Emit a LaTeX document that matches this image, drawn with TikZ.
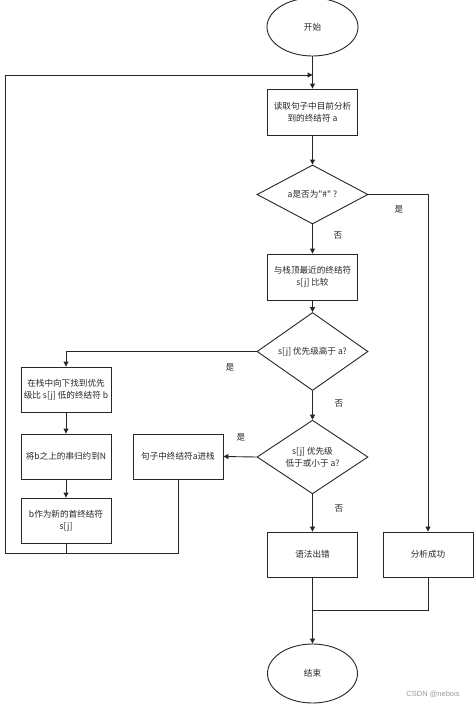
\documentclass[tikz,border=0pt]{standalone}
\usepackage{fontspec}
\newfontfamily\cjk{Noto Sans CJK SC}
\usetikzlibrary{shapes.geometric,arrows.meta}
\tikzset{
  base/.style={draw=black!85, line width=0.9pt, inner sep=0pt, align=center, font=\cjk\fontsize{8.6}{12}\selectfont, text=black!85},
  procbox/.style={base, rectangle, minimum width=90pt, minimum height=45pt},
  decide/.style={base, diamond, minimum width=111pt, minimum height=60pt},
  term/.style={base, ellipse, minimum width=91pt, minimum height=58pt},
  conn/.style={draw=black!85, line width=0.9pt},
  arr/.style={conn, -{Triangle[length=5pt,width=5pt]}},
  lbl/.style={font=\cjk\fontsize{8.6}{10}\selectfont, text=black!85, inner sep=0pt}
}
\begin{document}
\begin{tikzpicture}[x=1pt,y=-1pt]
\useasboundingbox (0,0) rectangle (474,705);
\fill[white] (0,0) rectangle (474,705);
\node[term] (start) at (312.5,27) {开始};
\node[procbox, minimum height=46pt] (read) at (312.5,112) {读取句子中目前分析\\到的终结符 a};
\node[decide, minimum height=59pt] (d1) at (312.5,194.5) {a是否为"\#" ?};
\node[procbox, minimum height=46pt] (cmp) at (312.5,277) {与栈顶最近的终结符\\s[j] 比较};
\node[decide, minimum height=61pt] (d2) at (312.5,351.5) {s[j] 优先级高于 a?};
\node[decide] (d3) at (312.5,457) {s[j] 优先级\\低于或小于 a?};
\node[procbox] (find) at (66,389.5) {在栈中向下找到优先\\级比 s[j] 低的终结符 b};
\node[procbox] (reduce) at (66,456.5) {将b之上的串归约到N};
\node[procbox] (newb) at (66,520.5) {b作为新的首终结符\\s[j]};
\node[procbox] (push) at (178,456.5) {句子中终结符a进栈};
\node[procbox] (err) at (312.5,554.5) {语法出错};
\node[procbox] (succ) at (428,554.5) {分析成功};
\node[term, minimum width=90pt, minimum height=59pt] (end) at (312.5,673.5) {结束};

\coordinate (lb) at (5,553);
\coordinate (lt) at (5,75);
\coordinate (jn) at (312.5,75);
\coordinate (mg) at (312.5,610);

\draw[arr] (start) -- (read);
\draw[arr] (push.south) |- (lb) -- (lt) -- (jn);
\draw[conn] (newb.south) -- (newb.south |- lb);
\draw[arr] (read) -- (d1);
\draw[arr] (d1.south) -- (cmp.north);
\draw[arr] (d1.east) -| (succ.north);
\draw[arr] (cmp) -- (d2);
\draw[arr] (d2.west) -| (find.north);
\draw[arr] (find) -- (reduce);
\draw[arr] (reduce) -- (newb);
\draw[arr] (d2.south) -- (d3.north);
\draw[arr] (d3.west) -- (push.east);
\draw[arr] (d3.south) -- (err.north);
\draw[arr] (err.south) -- (end.north);
\draw[conn] (succ.south) |- (mg);

\node[lbl] (l1) at (338,235) {否};
\node[lbl] (l2) at (399,209) {是};
\node[lbl] (l3) at (230,367) {是};
\node[lbl] (l4) at (339,403) {否};
\node[lbl] (l5) at (241,437) {是};
\node[lbl] (l6) at (339,508) {否};
\node[font=\fontspec{Liberation Sans}\fontsize{7.5}{9}\selectfont, text=black!40, inner sep=0pt] (wm) at (433,694) {CSDN @nebois};
\end{tikzpicture}
\end{document}
